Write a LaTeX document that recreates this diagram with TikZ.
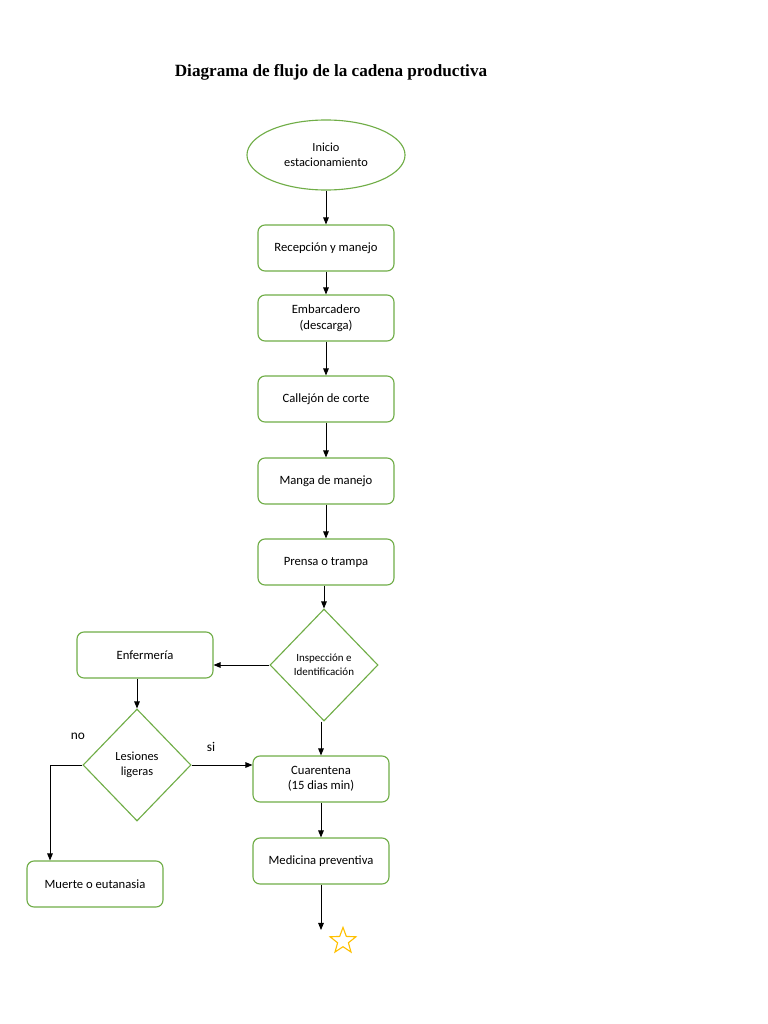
\documentclass[tikz,border=0pt]{standalone}
\usepackage{fontspec}
\setmainfont{Carlito}
\newfontfamily\titlefont{Liberation Serif}
\usetikzlibrary{shapes.geometric,arrows.meta}
\definecolor{boxgreen}{RGB}{112,173,71}
\definecolor{stargold}{RGB}{255,192,0}
\begin{document}
\begin{tikzpicture}[x=0.025cm,y=-0.025cm,
    stepbox/.style={draw=boxgreen,line width=0.8pt,rounded corners=5pt,fill=white,
        minimum width=3.4cm,minimum height=1.15cm,align=center,font=\fontsize{9}{11}\selectfont},
    decision/.style={draw=boxgreen,line width=0.8pt,diamond,aspect=1,inner sep=0pt,
        minimum width=2.7cm,minimum height=2.8cm,align=center},
    startnode/.style={draw=boxgreen,line width=0.8pt,ellipse,minimum width=3.95cm,
        minimum height=1.75cm,align=center,font=\fontsize{8.8}{11}\selectfont},
    flow/.style={-{Triangle[length=5pt,width=4pt]},line width=0.6pt},
    lbl/.style={font=\fontsize{9.5}{11}\selectfont}]
    \useasboundingbox (0,0) rectangle (768,1024);
    \node[font=\titlefont\bfseries\fontsize{12.2}{14}\selectfont] (title) at (331,72) {Diagrama de flujo de la cadena productiva};

    \node[startnode] (inicio) at (326,155) {Inicio\\estacionamiento};
    \node[stepbox] (recep) at (326,248) {Recepción y manejo};
    \node[stepbox] (embar) at (326,318) {Embarcadero\\(descarga)};
    \node[stepbox] (callej) at (326,399) {Callejón de corte};
    \node[stepbox] (manga) at (326,481) {Manga de manejo};
    \node[stepbox] (prensa) at (326,562) {Prensa o trampa};
    \node[decision,font=\fontsize{7.8}{10}\selectfont] (insp) at (324,665) {Inspección e\\Identificación};
    \node[stepbox] (enf) at (145,655) {Enfermería};
    \node[decision,font=\fontsize{8.8}{11}\selectfont] (les) at (137,765) {Lesiones\\ligeras};
    \node[stepbox] (cuar) at (321,779) {Cuarentena\\(15 dias min)};
    \node[stepbox] (medic) at (321,861) {Medicina preventiva};
    \node[stepbox] (muerte) at (95,884) {Muerte o eutanasia};
    \coordinate (fin) at (321,930);
    \coordinate (codo) at (50,767);
    \node[star,star points=5,star point ratio=2.4,draw=stargold,line width=0.8pt,
        minimum size=0.68cm,inner sep=0pt] (estrella) at (343,941) {};

    \draw[flow] (inicio) -- (recep);
    \draw[flow] (recep) -- (embar);
    \draw[flow] (embar) -- (callej);
    \draw[flow] (callej) -- (manga);
    \draw[flow] (manga) -- (prensa);
    \draw[flow] (prensa.south -| insp) -- (insp.north);
    \draw[flow] (insp.west) -- (insp.west -| enf.east);
    \draw[flow] (enf.south -| les) -- (les.north);
    \draw[flow] (insp.south -| cuar) -- (cuar.north);
    \draw[flow] (les.east) -- (les.east -| cuar.west);
    \draw[flow] (les.west) -- (les.west -| codo) -- (muerte.north -| codo);
    \draw[flow] (cuar) -- (medic);
    \draw[flow] (medic) -- (fin);
    \node[lbl] (si) at (211,747) {si};
    \node[lbl] (no) at (78,736) {no};
\end{tikzpicture}
\end{document}
